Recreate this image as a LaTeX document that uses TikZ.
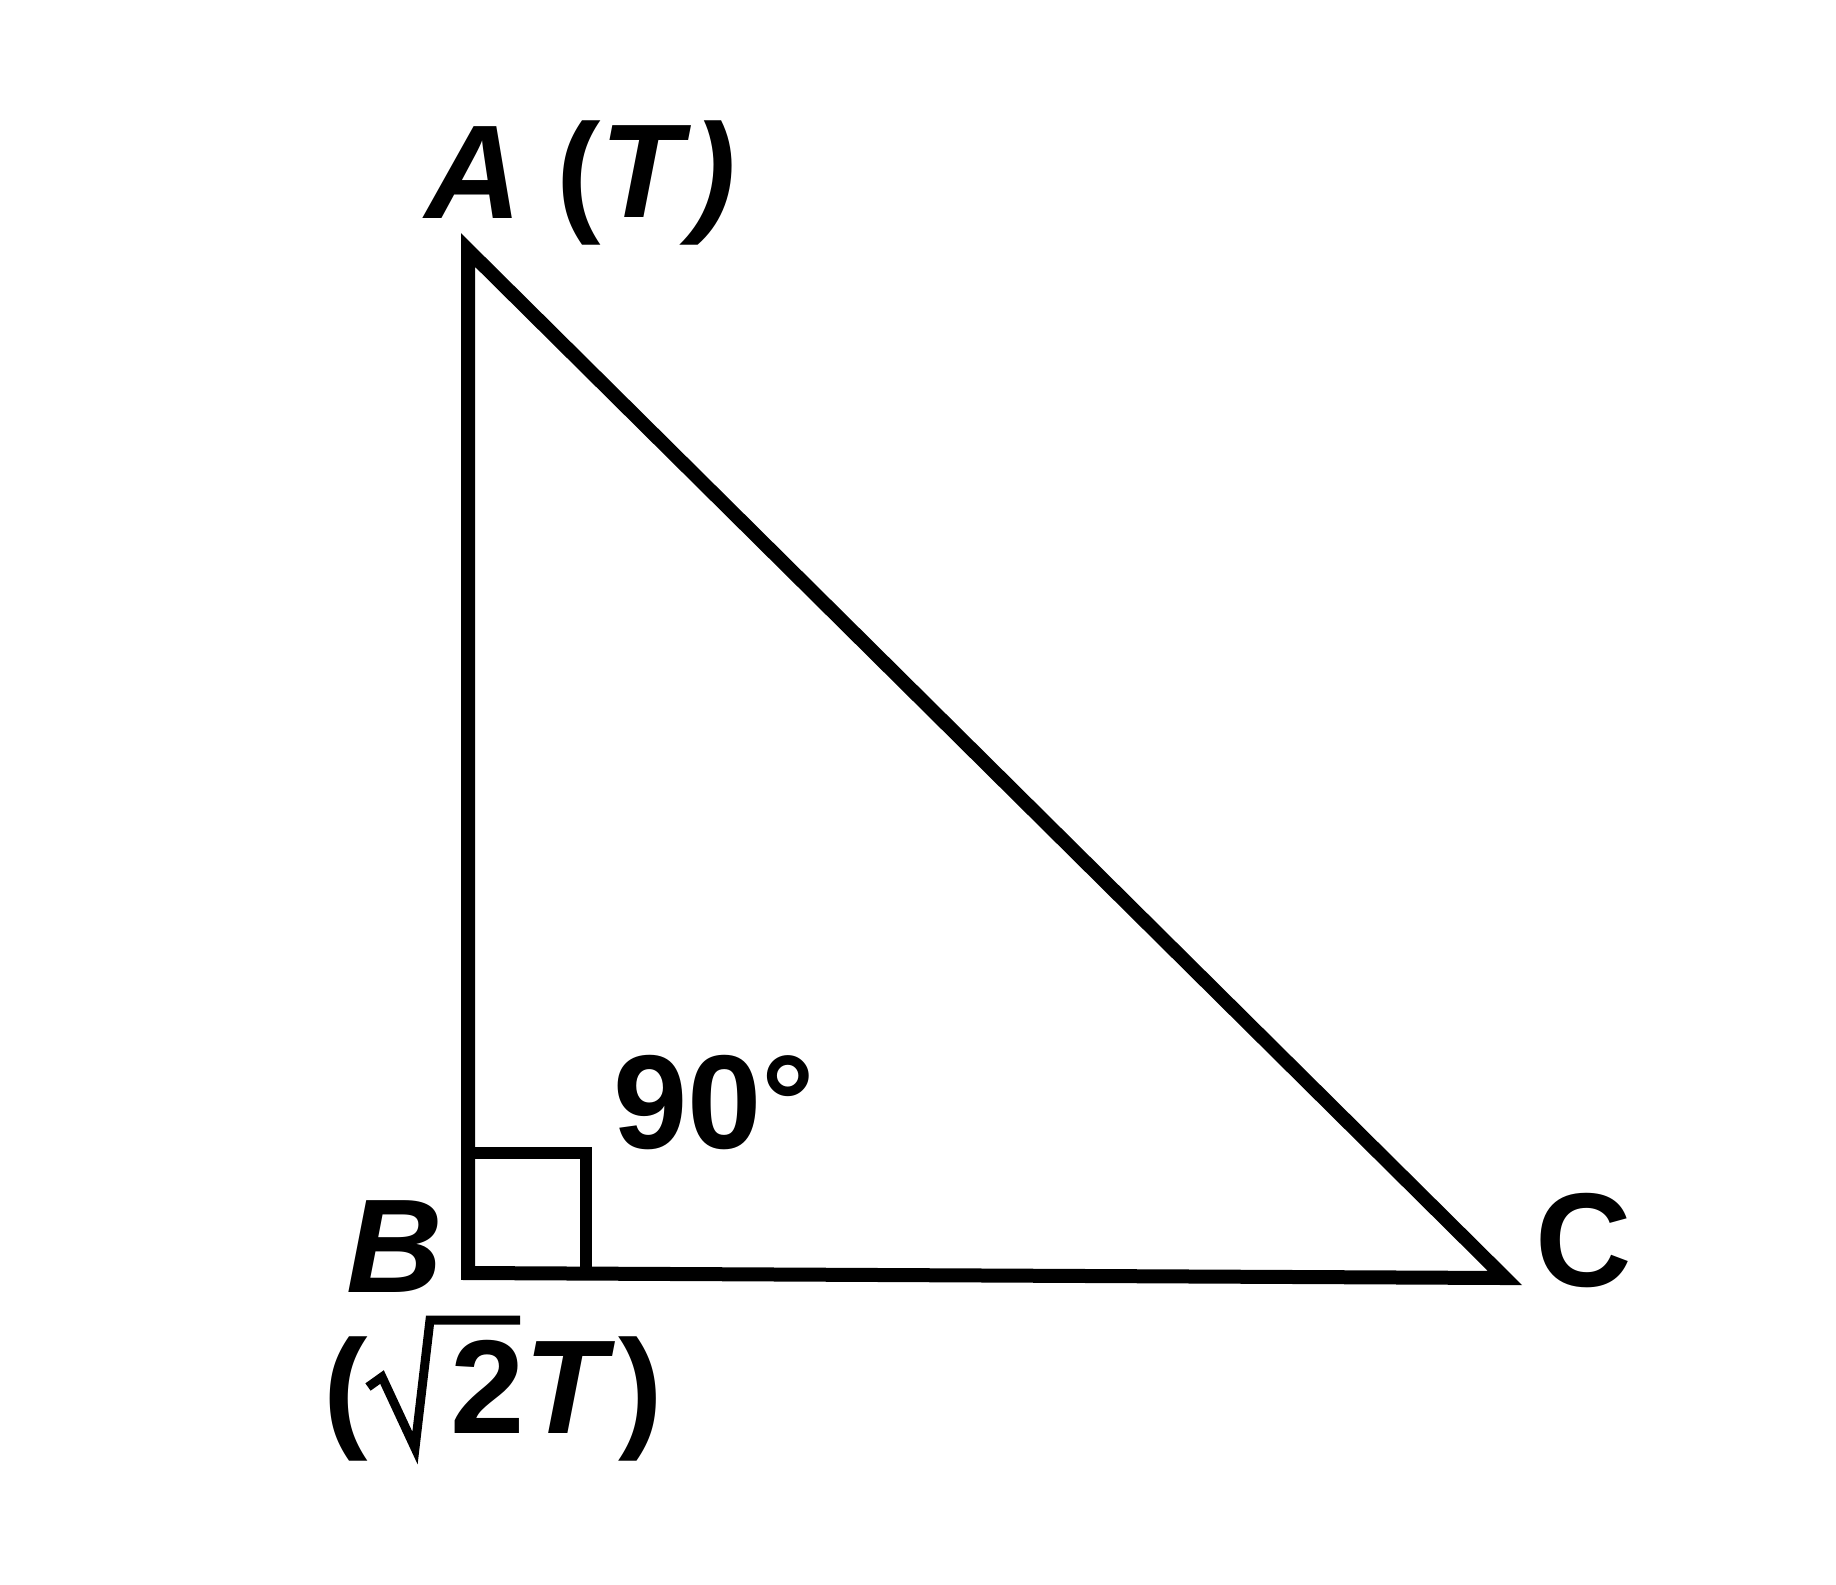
\documentclass[tikz,border=0pt]{standalone}
\usepackage{fontspec}
\setmainfont{Liberation Sans}
\usetikzlibrary{calc}
\tikzset{
  edge/.style={line width=0.14cm, line join=miter},
  lbl/.style={font=\fontsize{38}{40}\selectfont\bfseries, inner sep=0pt}
}

\begin{document}
\begin{tikzpicture}
		%%%%% START %%%%%
		\useasboundingbox (0, 0) rectangle (18.36, -15.84);
		
		\coordinate (A) at (4.68, -2.50);
		\coordinate (B) at (4.68, -12.73);
		\coordinate (C) at (15.05, -12.78);
		
		\draw[edge] (A) -- (B) -- (C) -- cycle;
		\draw[line width=0.12cm] (B) rectangle ($(B)+(1.18, 1.20)$);
		
		\node[lbl] (la) at (4.74, -1.73) {\itshape A};
		\node[lbl] (lt) at (6.46, -1.83) {(\itshape T\/)};
		\node[lbl] (lb) at (3.95, -12.47) {\itshape B};
		\node[lbl] (ln) at (7.14, -11.03) {90°};
		\node[lbl] (lc) at (15.84, -12.40) {C};
		
		\node[lbl] (po) at (3.46, -13.99) {(};
		\node[lbl] (tw) at (5.28, -13.87) {2\itshape T};
		\node[lbl] (pc) at (6.41, -13.99) {)};
		\draw[line width=0.09cm, line join=miter] (3.68, -13.87) -- (3.82, -13.77) -- (4.15, -14.48) -- (4.30, -13.20) -- (5.20, -13.20);
		
		%%%%% END %%%%%
	\end{tikzpicture}
\end{document}
